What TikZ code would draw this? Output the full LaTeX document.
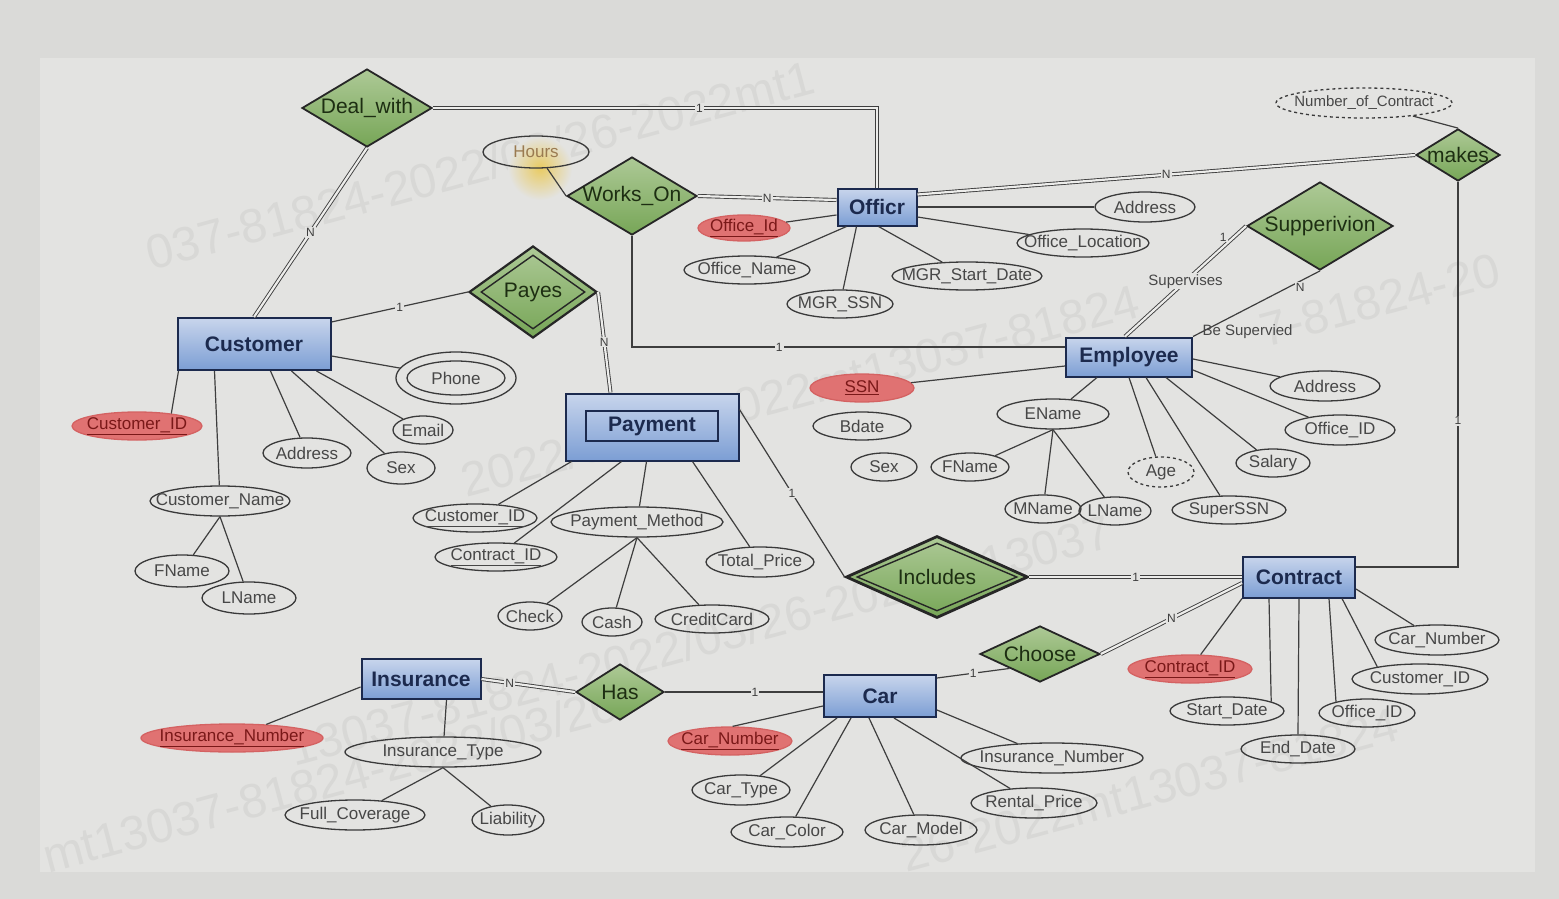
\documentclass[tikz,border=0pt]{standalone}
\usepackage{fontspec}
\setmainfont{Liberation Sans}
\usetikzlibrary{shapes.geometric}
\definecolor{bgout}{HTML}{DADAD8}
\definecolor{bgin}{HTML}{E3E3E1}
\definecolor{entd}{HTML}{1C2A4E}
\definecolor{entt}{HTML}{C8D5EC}
\definecolor{entb}{HTML}{7C9ED4}
\definecolor{relt}{HTML}{ADC996}
\definecolor{relb}{HTML}{77A657}
\definecolor{relx}{HTML}{1D2E12}
\definecolor{attrd}{HTML}{3A3A3A}
\definecolor{attrt}{HTML}{474747}
\definecolor{keyf}{HTML}{E07272}
\definecolor{keyd}{HTML}{D46262}
\definecolor{keyt}{HTML}{7A1818}
\definecolor{lnc}{HTML}{3E3E3E}
\definecolor{dblc}{HTML}{EDEDEB}
\definecolor{wm}{HTML}{D8D8D6}
\definecolor{glow}{HTML}{E9CB62}
\definecolor{hourc}{HTML}{9A7A50}
\newcommand\ztx[1]{\makebox[0pt]{#1}}
\tikzset{
 ent/.style 2 args={rectangle, draw=entd, line width=2pt, top color=entt, bottom color=entb, minimum width=#1, minimum height=#2, inner sep=0pt, text=entd, font=\fontsize{21}{24}\selectfont\bfseries},
 rel/.style 2 args={diamond, draw=black!85, line width=1.8pt, top color=relt, bottom color=relb, minimum width=#1, minimum height=#2, inner sep=0pt, text=relx, font=\fontsize{21}{24}\selectfont},
 relin/.style 2 args={diamond, draw=black!85, line width=1.4pt, minimum width=#1, minimum height=#2, inner sep=0pt, text=relx, font=\fontsize{21}{24}\selectfont},
 attr/.style 2 args={ellipse, draw=attrd, line width=1.3pt, minimum width=#1, minimum height=#2, inner sep=0pt, text=attrt, font=\fontsize{17}{19}\selectfont},
 keyattr/.style 2 args={attr={#1}{#2}, draw=keyd, fill=keyf, text=keyt},
 ln/.style={draw=lnc, line width=1.2pt},
 dbl/.style={draw=lnc, line width=0.9pt, double=dblc, double distance=2.2pt},
 card/.style={font=\fontsize{12}{13}\selectfont, text=lnc, inner sep=1pt, fill=bgin},
 rolelab/.style={font=\fontsize{15}{17}\selectfont, text=attrt, inner sep=1pt},
 wmark/.style={font=\fontsize{48}{52}\selectfont, text=wm, inner sep=0pt, rotate=15},
}
\begin{document}
\begin{tikzpicture}[x=1pt,y=-1pt]
\path[use as bounding box] (0,0) rectangle (1559,899);
\fill[bgout] (0,0) rectangle (1559,899);
\fill[bgin] (40,58) rectangle (1535,872);
% watermark
\node[wmark] (wm1) at (480,165) {037-81824-2022/03/26-2022mt1};
\node[wmark] (wm2) at (800,390) {2022/03/26-2022mt13037-81824};
\node[wmark] (wm3) at (1380,300) {7-81824-20};
\node[wmark] (wm4) at (700,640) {13037-81824-2022/03/26-2022mt13037};
\node[wmark] (wm5) at (330,780) {mt13037-81824-2022/03/26};
\node[wmark] (wm6) at (1150,790) {26-2022mt13037-81824};
% highlight glow
\shade[inner color=glow, outer color=bgin] (540,168) circle (32pt);

% entities
\node[ent={153}{52}] (cust) at (254,344) {\ztx{Customer}};
\node[ent={79}{37}] (off) at (877,207) {\ztx{Officr}};
\node[ent={126}{39}] (emp) at (1129,357) {\ztx{Employee}};
\node[ent={173}{67}] (pay) at (652,427) {};
\node[rectangle, draw=entd, line width=2pt, minimum width=132, minimum height=30, inner sep=0pt, text=entd, font=\fontsize{21}{24}\selectfont\bfseries] (payin) at (652,426) {\ztx{Payment}};
\node[ent={112}{41}] (con) at (1299,577) {\ztx{Contract}};
\node[ent={119}{40}] (ins) at (421,679) {\ztx{Insurance}};
\node[ent={112}{42}] (car) at (880,696) {\ztx{Car}};

% relationships
\node[rel={130}{78}] (deal) at (367,108) {\ztx{Deal\_with}};
\node[rel={130}{78}] (works) at (632,196) {\ztx{Works\_On}};
\node[rel={128}{92}, line width=2.2pt] (payes) at (533,292) {};
\node[relin={104}{74}] (payesin) at (533,292) {\ztx{Payes}};
\node[rel={146}{88}] (sup) at (1320,226) {\ztx{Supperivion}};
\node[rel={84}{52}] (makes) at (1458,155) {\ztx{makes}};
\node[rel={182}{82}, line width=2.8pt] (incl) at (937,577) {};
\node[relin={160}{68}] (inclin) at (937,577) {\ztx{Includes}};
\node[rel={120}{56}] (choose) at (1040,654) {\ztx{Choose}};
\node[rel={88}{56}] (has) at (620,692) {\ztx{Has}};

% customer attributes
\node[keyattr={130}{28}] (cid) at (137,426) {\ztx{\underline{Customer\_ID}}};
\node[attr={120}{52}] (cphone) at (456,378) {};
\node[attr={98}{34}] (cphonein) at (456,378) {\ztx{Phone}};
\node[attr={60}{28}] (cemail) at (423,430) {\ztx{Email}};
\node[attr={88}{30}] (caddr) at (307,453) {\ztx{Address}};
\node[attr={68}{32}] (csex) at (401,468) {\ztx{Sex}};
\node[attr={140}{30}] (cname) at (220,501) {\ztx{Customer\_Name}};
\node[attr={94}{32}] (cfn) at (182,571) {\ztx{FName}};
\node[attr={94}{32}] (cln) at (249,598) {\ztx{LName}};

% hours
\node[attr={106}{32}, text=hourc] (hours) at (536,152) {\ztx{Hours}};

% officr attributes
\node[keyattr={92}{26}] (oid) at (744,228) {\ztx{\underline{Office\_Id}}};
\node[attr={126}{28}] (oname) at (747,270) {\ztx{Office\_Name}};
\node[attr={106}{28}] (mssn) at (840,304) {\ztx{MGR\_SSN}};
\node[attr={150}{28}] (msd) at (967,276) {\ztx{MGR\_Start\_Date}};
\node[attr={132}{28}] (oloc) at (1083,243) {\ztx{Office\_Location}};
\node[attr={100}{30}] (oaddr) at (1145,207) {\ztx{Address}};
\node[attr={176}{30}, dashed, font=\fontsize{15}{17}\selectfont] (noc) at (1364,103) {\ztx{Number\_of\_Contract}};

% employee attributes
\node[keyattr={104}{28}] (ssn) at (862,388) {\ztx{\underline{SSN}}};
\node[attr={98}{28}] (bdate) at (862,426) {\ztx{Bdate}};
\node[attr={66}{28}] (esex) at (884,467) {\ztx{Sex}};
\node[attr={112}{30}] (ename) at (1053,414) {\ztx{EName}};
\node[attr={78}{28}] (efn) at (970,467) {\ztx{FName}};
\node[attr={76}{28}] (emn) at (1043,509) {\ztx{MName}};
\node[attr={72}{28}] (eln) at (1115,511) {\ztx{LName}};
\node[attr={66}{30}, dashed] (age) at (1161,472) {\ztx{Age}};
\node[attr={114}{28}] (sssn) at (1229,510) {\ztx{SuperSSN}};
\node[attr={74}{28}] (sal) at (1273,463) {\ztx{Salary}};
\node[attr={110}{30}] (eoid) at (1340,430) {\ztx{Office\_ID}};
\node[attr={110}{30}] (eaddr) at (1325,386) {\ztx{Address}};

% payment attributes
\node[attr={124}{28}] (pcid) at (475,518) {\ztx{\underline{Customer\_ID}}};
\node[attr={122}{28}] (pconid) at (496,557) {\ztx{\underline{Contract\_ID}}};
\node[attr={172}{30}] (pm) at (637,522) {\ztx{Payment\_Method}};
\node[attr={64}{28}] (chk) at (530,616) {\ztx{Check}};
\node[attr={60}{28}] (cash) at (612,622) {\ztx{Cash}};
\node[attr={114}{28}] (cc) at (712,619) {\ztx{CreditCard}};
\node[attr={108}{30}] (tp) at (760,562) {\ztx{Total\_Price}};

% contract attributes
\node[keyattr={124}{28}] (ckey) at (1190,669) {\ztx{\underline{Contract\_ID}}};
\node[attr={114}{28}] (sd) at (1227,711) {\ztx{Start\_Date}};
\node[attr={114}{28}] (ed) at (1298,749) {\ztx{End\_Date}};
\node[attr={96}{28}] (coid) at (1367,713) {\ztx{Office\_ID}};
\node[attr={136}{30}] (ccid) at (1420,679) {\ztx{Customer\_ID}};
\node[attr={124}{30}] (cnum) at (1437,640) {\ztx{Car\_Number}};

% insurance attributes
\node[keyattr={182}{28}] (inum) at (232,738) {\ztx{\underline{Insurance\_Number}}};
\node[attr={196}{30}] (itype) at (443,752) {\ztx{Insurance\_Type}};
\node[attr={140}{30}] (fc) at (355,815) {\ztx{Full\_Coverage}};
\node[attr={72}{30}] (liab) at (508,820) {\ztx{Liability}};

% car attributes
\node[keyattr={124}{28}] (cnkey) at (730,741) {\ztx{\underline{Car\_Number}}};
\node[attr={98}{30}] (ctype) at (741,790) {\ztx{Car\_Type}};
\node[attr={112}{30}] (ccolor) at (787,832) {\ztx{Car\_Color}};
\node[attr={112}{30}] (cmodel) at (921,830) {\ztx{Car\_Model}};
\node[attr={126}{30}] (rprice) at (1034,803) {\ztx{Rental\_Price}};
\node[attr={182}{30}] (cinum) at (1052,758) {\ztx{Insurance\_Number}};

% ---- connectors ----
% customer
\draw[dbl] (cust.north) -- node[card] (cN1) {N} (deal.south);
\draw[ln] ([yshift=-5pt]cust.north east) -- node[card] (c11) {1} (payes.west);
\draw[ln] ([xshift=2pt]cust.south west) -- (cid.20);
\draw[ln] ([xshift=38pt]cust.south west) -- (cname);
\draw[ln] ([xshift=94pt]cust.south west) -- (caddr);
\draw[ln] ([xshift=115pt]cust.south west) -- (csex);
\draw[ln] ([xshift=140pt]cust.south west) -- (cemail);
\draw[ln] ([yshift=-12pt]cust.east) -- (cphone);
\draw[ln] (cname.south) -- (cfn);
\draw[ln] (cname.south) -- (cln);
% deal with / works on
\draw[dbl] (deal.east) -| node[card, pos=0.3] (d1) {1} (off.north);
\draw[ln] (works.west) -- (hours);
\draw[dbl] (works.east) -- node[card] (wN) {N} ([yshift=7pt]off.west);
\draw[ln] (works.south) |- node[card, pos=0.67] (w1) {1} ([yshift=10pt]emp.west);
% officr
\draw[ln] ([yshift=-8pt]off.west) -- (oid);
\draw[ln] ([xshift=10pt]off.south west) -- (oname);
\draw[ln] ([xshift=20pt]off.south west) -- (mssn);
\draw[ln] ([xshift=42pt]off.south west) -- (msd);
\draw[ln] ([yshift=-10pt]off.east) -- (oloc);
\draw[ln] (off.east) -- (oaddr);
\draw[dbl] ([yshift=-7pt]off.north east) -- node[card] (oN) {N} (makes.west);
\draw[ln] (noc) -- (makes.north);
\draw[ln] (makes.south) |- node[card, pos=0.31] (m1) {1} ([yshift=10pt]con.east);
% supervision
\draw[dbl] ([xshift=60pt]emp.north west) -- node[rolelab, fill=bgin] (lsv) {Supervises} node[card, pos=0.9, left=6pt] (s1) {1} (sup.west);
\draw[ln] (sup.south) -- node[card, pos=0.25, right=6pt] (sN) {N} node[rolelab, pos=0.93, anchor=west, inner sep=0pt] (lbs) {Be Supervied} (emp.north east);
% employee
\draw[ln] ([yshift=-9pt]emp.west) -- (ssn);
\draw[ln] ([xshift=32pt]emp.south west) -- (ename);
\draw[ln] ([xshift=64pt]emp.south west) -- (age);
\draw[ln] ([xshift=81pt]emp.south west) -- (sssn);
\draw[ln] ([xshift=101pt]emp.south west) -- (sal);
\draw[ln] ([yshift=-13pt]emp.east) -- (eoid);
\draw[ln] ([yshift=-2pt]emp.east) -- (eaddr);
\draw[ln] (ename.south) -- (efn);
\draw[ln] (ename.south) -- (emn);
\draw[ln] (ename.south) -- (eln);
% payment
\draw[dbl] (payes.east) -- node[card] (pN) {N} ([xshift=46pt]pay.north west);
\draw[ln] ([xshift=7pt]pay.south west) -- (pcid);
\draw[ln] ([xshift=57pt]pay.south west) -- (pconid);
\draw[ln] ([xshift=82pt]pay.south west) -- (pm);
\draw[ln] ([xshift=128pt]pay.south west) -- (tp);
\draw[ln] (pm.south) -- (chk);
\draw[ln] (pm.south) -- (cash);
\draw[ln] (pm.south) -- (cc);
\draw[ln] ([yshift=-17pt]pay.north east) -- node[card] (p1) {1} (incl.west);
% contract
\draw[dbl] (incl.east) -- node[card] (i1) {1} (con.west);
\draw[dbl] (choose.east) -- node[card] (chN) {N} ([yshift=-6pt]con.west);
\draw[ln] ([yshift=-4pt]car.north east) -- node[card] (ch1) {1} (choose.south west);
\draw[ln] (con.south west) -- (ckey);
\draw[ln] ([xshift=27pt]con.south west) -- (sd.12);
\draw[ln] ([xshift=57pt]con.south west) -- (ed.north);
\draw[ln] ([xshift=87pt]con.south west) -- (coid.160);
\draw[ln] ([xshift=100pt]con.south west) -- (ccid.164);
\draw[ln] ([yshift=-12pt]con.east) -- (cnum);
% insurance
\draw[dbl] (ins.east) -- node[card, pos=0.3] (hN) {N} (has.west);
\draw[ln] (has.east) -- node[card, pos=0.57] (h1) {1} ([yshift=4pt]car.west);
\draw[ln] ([yshift=-8pt]ins.west) -- (inum);
\draw[ln] ([xshift=86pt]ins.south west) -- (itype);
\draw[ln] (itype.south) -- (fc);
\draw[ln] (itype.south) -- (liab);
% car
\draw[ln] ([yshift=-10pt]car.west) -- (cnkey.80);
\draw[ln] ([xshift=14pt]car.south west) -- (ctype);
\draw[ln] ([xshift=28pt]car.south west) -- (ccolor);
\draw[ln] ([xshift=46pt]car.south west) -- (cmodel);
\draw[ln] ([xshift=71pt]car.south west) -- (rprice);
\draw[ln] ([yshift=-14pt]car.east) -- (cinum);
\end{tikzpicture}
\end{document}
